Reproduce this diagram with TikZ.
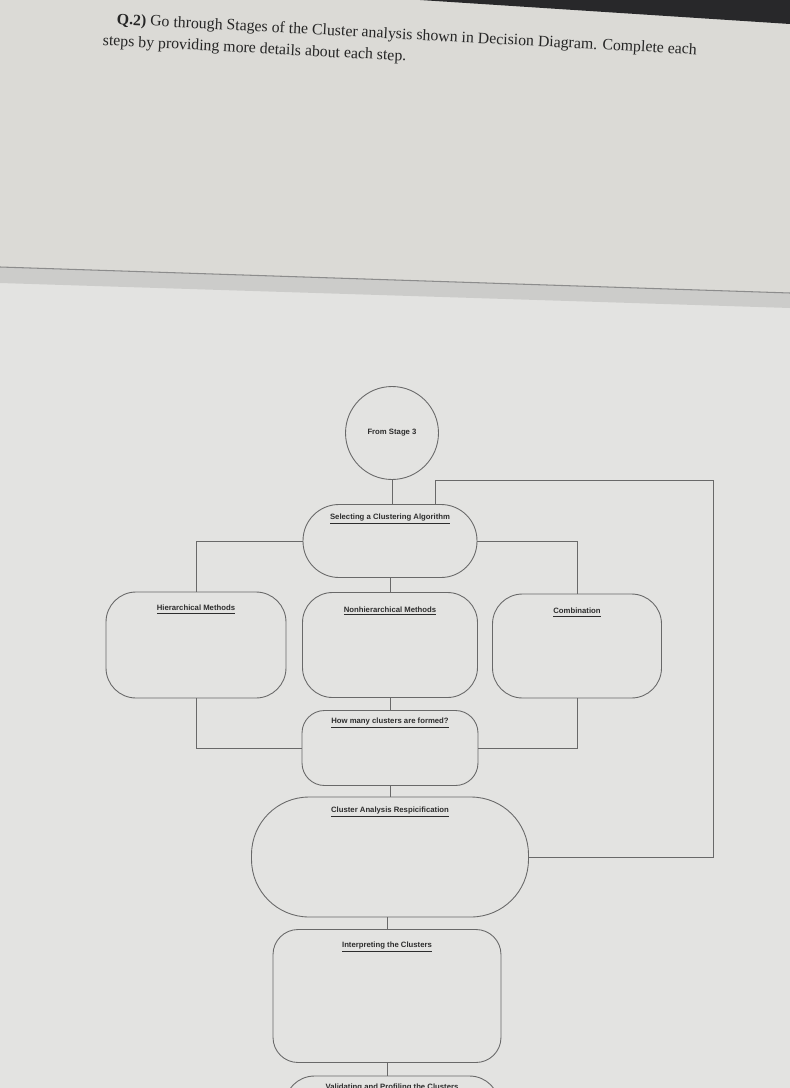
\documentclass[tikz,border=0pt]{standalone}
\usepackage{fontspec}
\setmainfont{Liberation Serif}
\newfontfamily\boxfont{Liberation Sans}
\usetikzlibrary{positioning,calc}
\definecolor{topgrey}{RGB}{219,218,214}
\definecolor{pagegrey}{RGB}{227,227,225}
\definecolor{bandgrey}{RGB}{204,204,202}
\definecolor{edgegrey}{RGB}{140,140,140}
\definecolor{screendark}{RGB}{40,40,42}
\definecolor{linegrey}{RGB}{105,105,105}
\definecolor{inkgrey}{RGB}{45,45,45}

\begin{document}
\begin{tikzpicture}[x=0.02cm, y=-0.02cm,
    stage/.style={rectangle, draw=linegrey, line width=0.5pt, rounded corners=0.6cm},
    startpt/.style={circle, draw=linegrey, line width=0.5pt, minimum size=1.86cm, inner sep=0pt, font=\boxfont\bfseries\fontsize{4.4}{5}\selectfont, text=inkgrey},
    tag/.style={font=\boxfont\bfseries\fontsize{4.4}{5}\selectfont, text=inkgrey, inner sep=0pt},
    link/.style={draw=linegrey, line width=0.5pt},
    question/.style={anchor=north west, rotate=-3, inner sep=0pt, align=left, font=\fontsize{9}{12.4}\selectfont, text=black!85}
]

% Screen
\useasboundingbox (0,0) rectangle (790,1088);
\clip (0,0) rectangle (790,1088);
\fill[pagegrey] (0,0) rectangle (790,1088);
\fill[topgrey] (0,0) -- (790,0) -- (790,293) -- (0,267) -- cycle;
\fill[bandgrey] (0,267) -- (790,293) -- (790,308) -- (0,283) -- cycle;
\draw[edgegrey, line width=0.6pt] (0,267) -- (790,293);
\fill[screendark] (420,0) -- (790,0) -- (790,24) -- cycle;

% Question
\node[question] (qtext) at (104,12) {\hspace*{0.26cm}\textbf{Q.2)} Go through Stages of the Cluster analysis shown in Decision Diagram. Complete each\\
steps by providing more details about each step.};

% Stages
\node[startpt] (start) at (392,433) {From Stage 3};
\node[stage, rounded corners=0.72cm, minimum width=3.48cm, minimum height=1.46cm] (algo) at (390,541) {};
\node[stage, minimum width=3.6cm, minimum height=2.12cm] (hier) at (196,645) {};
\node[stage, minimum width=3.5cm, minimum height=2.1cm] (nonh) at (390,645) {};
\node[stage, minimum width=3.38cm, minimum height=2.08cm] (comb) at (577,646) {};
\node[stage, rounded corners=0.45cm, minimum width=3.52cm, minimum height=1.5cm] (howmany) at (390,748) {};
\node[stage, rounded corners=1.15cm, minimum width=5.54cm, minimum height=2.4cm] (respec) at (390,857) {};
\node[stage, rounded corners=0.5cm, minimum width=4.56cm, minimum height=2.66cm] (interp) at (387,996) {};
\node[stage, minimum width=4.3cm, minimum height=2.4cm] (valid) at (392,1136) {};

% Titles
\node[tag, below=0.18cm of algo.north] (algoT) {\underline{Selecting a Clustering Algorithm}};
\node[tag, below=0.26cm of hier.north] (hierT) {\underline{Hierarchical Methods}};
\node[tag, below=0.28cm of nonh.north] (nonhT) {\underline{Nonhierarchical Methods}};
\node[tag, below=0.28cm of comb.north] (combT) {\underline{Combination}};
\node[tag, below=0.15cm of howmany.north] (howmanyT) {\underline{How many clusters are formed?}};
\node[tag, below=0.2cm of respec.north] (respecT) {\underline{Cluster Analysis Respicification}};
\node[tag, below=0.24cm of interp.north] (interpT) {\underline{Interpreting the Clusters}};
\node[tag, below=0.16cm of valid.north] (validT) {\underline{Validating and Profiling the Clusters}};

% Connectors
\draw[link] (start.south) -- (start.south |- algo.north);
\draw[link] (algo.west) -| (hier.north);
\draw[link] (algo.east) -| (comb.north);
\draw[link] (algo.south) -- (nonh.north);
\draw[link] (nonh.south) -- (howmany.north);
\draw[link] (hier.south) |- (howmany.west);
\draw[link] (comb.south) |- (howmany.east);
\draw[link] (howmany.south) -- (respec.north);
\draw[link] (interp.north |- respec.south) -- (interp.north);
\draw[link] (interp.south) -- (interp.south |- valid.north);

% Respecification loop
\coordinate (loopturn) at (713,480);
\draw[link] (respec.east) -| (loopturn) -| ([xshift=0.9cm]algo.north);

\end{tikzpicture}
\end{document}
